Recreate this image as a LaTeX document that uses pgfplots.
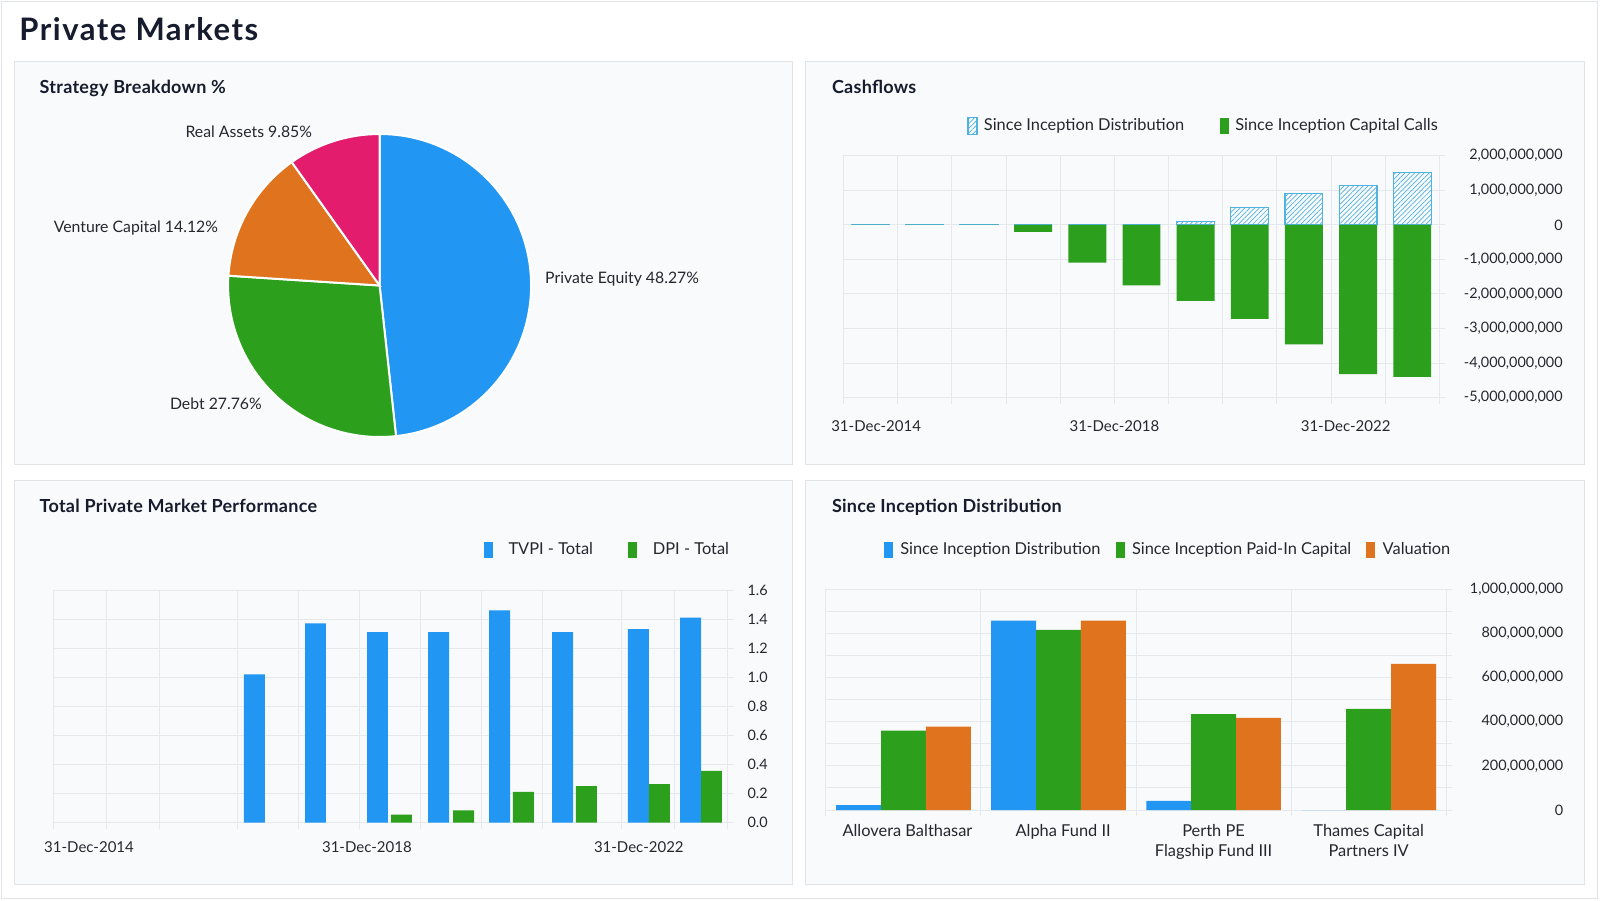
\documentclass[border=0pt]{standalone}
\usepackage{fontspec}
\setmainfont{Lato}
\newfontfamily\tnumfont{Lato}[Numbers=Monospaced]
\newfontfamily\titlefam{Lato}[LetterSpace=5]
\newfontfamily\ptfam{Lato}[LetterSpace=1.5]
\usepackage{pgfplots}
\pgfplotsset{compat=1.18}
\usetikzlibrary{patterns.meta}
\definecolor{cblue}{RGB}{33,150,243}
\definecolor{cgreen}{RGB}{44,160,28}
\definecolor{corange}{RGB}{224,115,30}
\definecolor{cpink}{RGB}{227,28,110}
\definecolor{chatch}{RGB}{80,178,225}
\definecolor{cgrid}{RGB}{229,232,236}
\definecolor{cpanel}{RGB}{249,250,251}
\definecolor{cborder}{RGB}{225,228,231}
\definecolor{ctext}{RGB}{36,40,46}
\definecolor{ctitle}{RGB}{22,28,45}
\newcommand\titlefont{\titlefam\fontsize{15.5}{17}\selectfont\bfseries}
\newcommand\ptfont{\ptfam\fontsize{9}{11}\selectfont\bfseries}
\newcommand\lblfont{\fontsize{8.2}{10}\selectfont}
\newcommand\pielblfont{\fontsize{7.9}{10}\selectfont}
\newcommand\tickfont{\fontsize{7.5}{10}\selectfont}
\newcommand\ytickfont{\tnumfont\fontsize{7.2}{10}\selectfont}
\pgfplotsset{
  dash/.style={
    scale only axis,
    axis line style={draw=cgrid, line width=0.5pt},
    grid=major,
    grid style={draw=cgrid, line width=0.5pt},
    major grid style={draw=cgrid, line width=0.5pt},
    tick style={draw=cgrid, line width=0.5pt},
    tick align=outside,
    xtick pos=lower, ytick pos=right,
    yticklabel pos=right,
    major tick length=3pt,
    scaled y ticks=false,
    ticklabel style={font=\tickfont, text=ctext},
    yticklabel style={font=\ytickfont},
    /pgf/number format/assume math mode=true,
    legend style={draw=none, fill=none, font=\lblfont, text=ctext, inner sep=0pt, outer sep=0pt, nodes={inner sep=0pt}},
  },
  sq/.style={legend image code/.code={\path[##1] (0pt,-4.1pt) rectangle (4.5pt,4.1pt);}},
}
\def\pe{48.27}\def\debt{27.76}\def\vc{14.12}\def\ra{9.85}
\begin{document}
\begin{tikzpicture}
\begin{scope}[x=0.5pt,y=-0.5pt]
\useasboundingbox (0,0) rectangle (1600,900);
\fill[white] (0,0) rectangle (1600,900);
\draw[cborder, line width=0.5pt] (1,1) rectangle (1597,898);
\foreach \a/\b/\c/\d in {14.3/61.7/792.7/464, 805.7/61.7/1584/464, 14.3/480.3/792.7/884, 805.7/480.3/1584/884}
  \filldraw[fill=cpanel, draw=cborder, line width=0.5pt] (\a,\b) rectangle (\c,\d);
\node[anchor=base west, inner sep=0pt, font=\titlefont, text=ctitle] at (18.9,40.7) {Private Markets};
\node[anchor=base west, inner sep=0pt, font=\ptfont, text=ctitle] at (39.3,93.3) {Strategy Breakdown \%};
\node[anchor=base west, inner sep=0pt, font=\ptfont, text=ctitle] at (831.6,93.3) {Cashflows};
\node[anchor=base west, inner sep=0pt, font=\ptfont, text=ctitle] at (39.3,512.3) {Total Private Market Performance};
\node[anchor=base west, inner sep=0pt, font=\ptfont, text=ctitle] at (831.6,512.3) {Since Inception Distribution};
\coordinate (pie) at (379.6,285.5);
\coordinate (cf) at (843.6,155.7);
\coordinate (pf) at (53.9,590);
\coordinate (df) at (825.9,589.3);
\end{scope}

% ---------------- Pie ----------------
\pgfmathsetmacro\aA{90}
\pgfmathsetmacro\aB{90-3.6*\pe}
\pgfmathsetmacro\aC{\aB-3.6*\debt}
\pgfmathsetmacro\aD{\aC-3.6*\vc}
\begin{axis}[at={(pie)}, anchor=center, scale only axis, width=151.5pt, height=151.5pt,
  xmin=-1, xmax=1, ymin=-1, ymax=1, hide axis, clip=false]
\filldraw[fill=cblue, draw=white, line width=1pt] (axis cs:0,0) -- ++(\aA:75.75pt) arc[start angle=\aA, delta angle={-3.6*\pe}, radius=75.75pt] -- cycle;
\filldraw[fill=cgreen, draw=white, line width=1pt] (axis cs:0,0) -- ++(\aB:75.75pt) arc[start angle=\aB, delta angle={-3.6*\debt}, radius=75.75pt] -- cycle;
\filldraw[fill=corange, draw=white, line width=1pt] (axis cs:0,0) -- ++(\aC:75.75pt) arc[start angle=\aC, delta angle={-3.6*\vc}, radius=75.75pt] -- cycle;
\filldraw[fill=cpink, draw=white, line width=1pt] (axis cs:0,0) -- ++(\aD:75.75pt) arc[start angle=\aD, delta angle={-3.6*\ra}, radius=75.75pt] -- cycle;
\end{axis}

% ---------------- Cashflows ----------------
\begin{axis}[dash, at={(cf)}, anchor=north west, width=297.85pt, height=121pt,
  xmin=-0.5, xmax=10.5, ymin=-5e9, ymax=2e9,
  xtick={-0.5,0.5,1.5,2.5,3.5,4.5,5.5,6.5,7.5,8.5,9.5,10.5}, xticklabels={},
  extra x ticks={0.1,4.5,8.77},
  extra x tick labels={31-Dec-2014,31-Dec-2018,31-Dec-2022},
  extra x tick style={grid=none, major tick length=0pt, xticklabel style={anchor=center, inner sep=0pt, yshift=-14.15pt}},
  ytick={-5e9,-4e9,-3e9,-2e9,-1e9,0,1e9,2e9},
  yticklabels={{-5,000,000,000},{-4,000,000,000},{-3,000,000,000},{-2,000,000,000},{-1,000,000,000},0,{1,000,000,000},{2,000,000,000}},
  yticklabel style={anchor=east, inner sep=0pt, xshift=58.85pt},
  legend columns=2,
  legend style={at={(0.6027,1.1226)}, anchor=center,
    /tikz/every odd column/.append style={column sep=3.15pt},
    /tikz/every even column/.append style={column sep=17.9pt}},
]
\addplot[ybar, bar shift=0pt, bar width=0.7, draw=chatch, line width=0.6pt,
  pattern={Lines[angle=45,distance=1.7pt,line width=0.35pt]}, pattern color=chatch, sq]
  coordinates {(0,0.012e9) (1,0.012e9) (2,0.012e9) (3,0) (4,0) (5,0) (6,0.1e9) (7,0.5e9) (8,0.9e9) (9,1.13e9) (10,1.51e9)};
\addlegendentry{Since Inception Distribution}
\addplot[ybar, bar shift=0pt, bar width=0.7, fill=cgreen, draw=none, sq]
  coordinates {(0,0) (1,0) (2,0) (3,-0.2e9) (4,-1.09e9) (5,-1.75e9) (6,-2.2e9) (7,-2.72e9) (8,-3.46e9) (9,-4.32e9) (10,-4.4e9)};
\addlegendentry{Since Inception Capital Calls}
\end{axis}

% ---------------- Performance ----------------
\begin{axis}[dash, at={(pf)}, anchor=north west, width=336.9pt, height=116.25pt,
  xmin=53.9, xmax=727.7, ymin=0, ymax=1.6,
  xtick={53.9,106.3,159.6,237.6,298.7,359.8,420.4,481.5,542.5,621.6,674.4,727.7}, xticklabels={},
  extra x ticks={89,366.9,638.8},
  extra x tick labels={31-Dec-2014,31-Dec-2018,31-Dec-2022},
  extra x tick style={grid=none, major tick length=0pt, xticklabel style={anchor=center, inner sep=0pt, yshift=-12.4pt}},
  ytick={0,0.2,0.4,0.6,0.8,1.0,1.2,1.4,1.6},
  yticklabels={0.0,0.2,0.4,0.6,0.8,1.0,1.2,1.4,1.6},
  yticklabel style={anchor=east, inner sep=0pt, xshift=17.15pt},
  legend columns=2,
  legend style={at={(0.8201,1.1730)}, anchor=center,
    /tikz/every odd column/.append style={column sep=7.8pt},
    /tikz/every even column/.append style={column sep=17.65pt}},
]
\addplot[ybar, bar shift=0pt, bar width=20.9, fill=cblue, draw=none, sq]
  coordinates {(254.35,1.02) (315.45,1.37) (377.5,1.31) (438.55,1.31) (499.65,1.46) (562.65,1.31) (638.3,1.33) (690.6,1.41)};
\addlegendentry{TVPI - Total}
\addplot[ybar, bar shift=0pt, bar width=20.9, fill=cgreen, draw=none, sq]
  coordinates {(401.5,0.055) (463.55,0.083) (523.4,0.211) (586.4,0.25) (659.35,0.265) (711.45,0.355)};
\addlegendentry{DPI - Total}
\end{axis}

% ---------------- Since Inception Distribution ----------------
\begin{axis}[dash, at={(df)}, anchor=north west, width=310.15pt, height=110.35pt,
  ybar=0pt, bar width=0.2895,
  xmin=-0.5, xmax=3.5, ymin=0, ymax=1e9,
  xtick={-0.5,0.5,1.5,2.5,3.5}, xticklabels={},
  extra x ticks={0.026,1.03,2,3},
  extra x tick labels={Allovera Balthasar,Alpha Fund II,{Perth PE\\Flagship Fund III},{Thames Capital\\Partners IV}},
  extra x tick style={grid=none, major tick length=0pt, xticklabel style={align=center, anchor=north, inner sep=0pt, yshift=-6.9pt, font=\lblfont}},
  grid=both,
  minor grid style={draw=cgrid, line width=0.5pt},
  minor tick length=3pt,
  ytick={0,2e8,4e8,6e8,8e8,1e9},
  minor ytick={1e8,3e8,5e8,7e8,9e8},
  yticklabels={0,{200,000,000},{400,000,000},{600,000,000},{800,000,000},{1,000,000,000}},
  yticklabel style={anchor=east, inner sep=0pt, xshift=55.75pt},
  legend columns=3,
  legend style={at={(0.5502,1.179)}, anchor=center,
    /tikz/every odd column/.append style={column sep=3.65pt},
    /tikz/every even column/.append style={column sep=7.6pt}},
]
\addplot[fill=cblue, draw=none, sq] coordinates {(0,0.0227e9) (1,0.858e9) (2,0.041e9) (3,0)};
\addlegendentry{Since Inception Distribution}
\addplot[fill=cgreen, draw=none, sq] coordinates {(0,0.3595e9) (1,0.816e9) (2,0.435e9) (3,0.458e9)};
\addlegendentry{Since Inception Paid-In Capital}
\addplot[fill=corange, draw=none, sq] coordinates {(0,0.3776e9) (1,0.858e9) (2,0.417e9) (3,0.662e9)};
\addlegendentry{Valuation}
\end{axis}

% ---------------- Pie labels ----------------
\begin{scope}[x=0.5pt,y=-0.5pt]
\node[anchor=base east, inner sep=0pt, font=\pielblfont, text=ctext] at (312.4,137.5) {Real Assets 9.85\%};
\node[anchor=base east, inner sep=0pt, font=\pielblfont, text=ctext] at (218.4,232.5) {Venture Capital 14.12\%};
\node[anchor=base west, inner sep=0pt, font=\pielblfont, text=ctext] at (544.8,283.5) {Private Equity 48.27\%};
\node[anchor=base east, inner sep=0pt, font=\pielblfont, text=ctext] at (262.2,409.8) {Debt 27.76\%};
\end{scope}
\end{tikzpicture}
\end{document}
